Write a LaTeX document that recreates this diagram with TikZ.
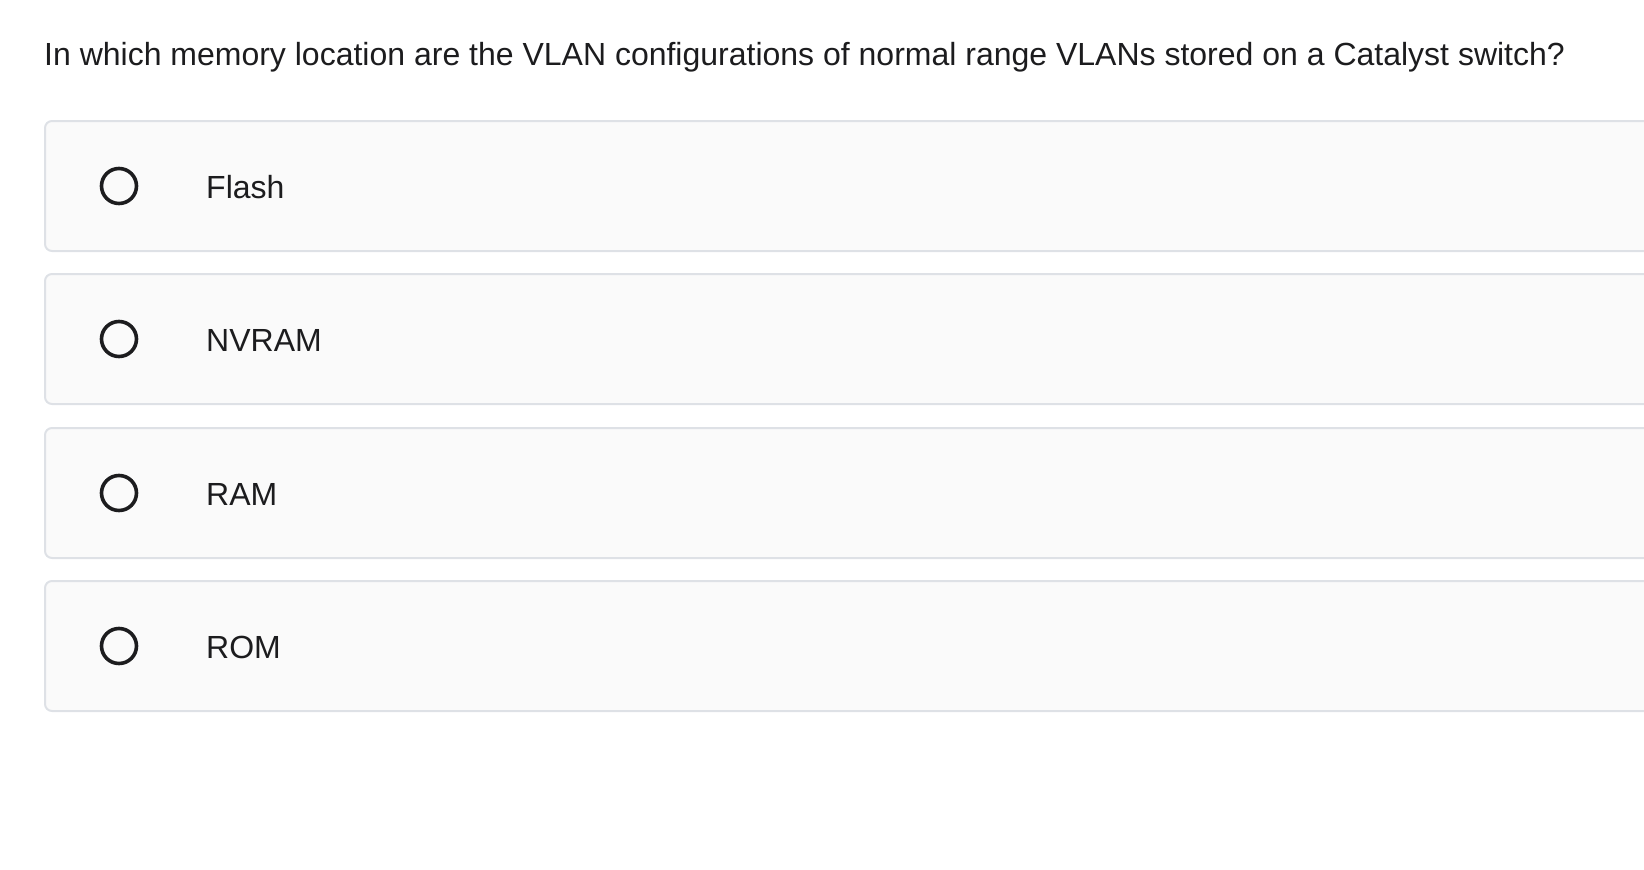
\documentclass[tikz,border=0pt]{standalone}
\usepackage{fontspec}
\setmainfont{Liberation Sans}
\definecolor{bd}{HTML}{DEE1E6}
\definecolor{bg}{HTML}{FAFAFA}
\definecolor{tx}{HTML}{1C1C1E}
\begin{document}
\begin{tikzpicture}[x=1pt,y=-1pt,
  optbox/.style={draw=bd,line width=2pt,fill=bg,rounded corners=7pt},
  radio/.style={circle,draw=tx,line width=3.6pt,minimum size=35pt,inner sep=0pt},
  lbl/.style={anchor=west,font=\fontsize{32}{36}\selectfont,text=tx,inner sep=0pt}]
\useasboundingbox (0,0) rectangle (1644,870);
\clip (0,0) rectangle (1644,870);
\node[lbl] (q) at (44,57) {In which memory location are the VLAN configurations of normal range VLANs stored on a Catalyst switch?};
\foreach \i/\t/\y in {1/Flash/121,2/NVRAM/274,3/RAM/428,4/ROM/581}{
  \draw[optbox] (45,\y) rectangle (1670,\y+130);
  \node[radio] (r\i) at (119,\y+65) {};
  \node[lbl] (o\i) at (206,\y+66) {\t};
}
\end{tikzpicture}
\end{document}
